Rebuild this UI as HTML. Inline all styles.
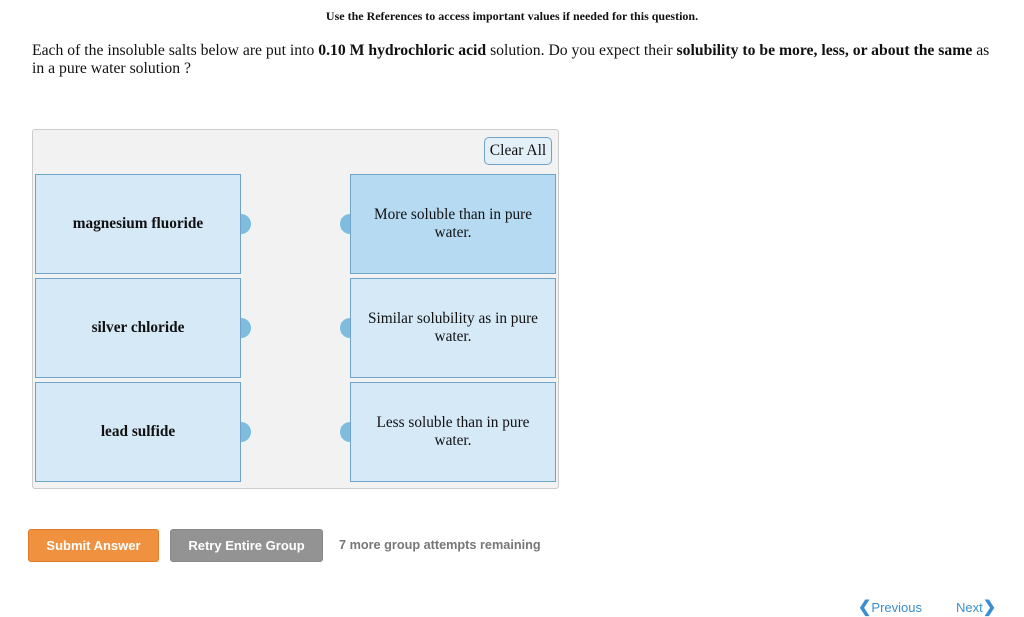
<!DOCTYPE html>
<html><head><style>
body{margin:0;width:1024px;height:611px;background:#fff;font-family:"Liberation Serif",serif;position:relative;overflow:hidden;color:#111}
.a{position:absolute}
.box{position:absolute;background:#d6e9f7;border:1px solid #6fa3c8;box-sizing:border-box;display:flex;align-items:center;justify-content:center;text-align:center;font-size:15.3px;line-height:18px}
.l{font-weight:bold}
.tabR{position:absolute;width:10px;height:20px;background:#7fbde0;border-radius:0 10px 10px 0}
.tabL{position:absolute;width:10px;height:20px;background:#7fbde0;border-radius:10px 0 0 10px}
.btn{position:absolute;border-radius:3px;color:#fff;font-family:"Liberation Sans",sans-serif;font-weight:bold;font-size:13px;display:flex;align-items:center;justify-content:center}
</style></head><body>
<div class="a" style="left:0;width:1024px;top:9px;text-align:center;font-weight:bold;font-size:12px">Use the References to access important values if needed for this question.</div>
<div class="a" style="left:32px;top:42px;width:966px;font-size:15.7px;line-height:18px">Each of the insoluble salts below are put into <b>0.10 M hydrochloric acid</b> solution. Do you expect their <b>solubility to be more, less, or about the same</b> as in a pure water solution ?</div>
<div class="a" style="left:32px;top:129px;width:525px;height:358px;background:#f2f2f2;border:1px solid #ccc;border-radius:3px"></div>
<div class="a" style="left:484px;top:137px;width:68px;height:28px;border:1px solid #6fa3c8;border-radius:5px;background:#e4f0f8;box-sizing:border-box;font-size:15.5px;display:flex;align-items:center;justify-content:center">Clear All</div>
<div class="box l" style="left:35px;top:174px;width:206px;height:100px">magnesium fluoride</div>
<div class="box l" style="left:35px;top:278px;width:206px;height:100px">silver chloride</div>
<div class="box l" style="left:35px;top:382px;width:206px;height:100px">lead sulfide</div>
<div class="box" style="left:350px;top:174px;width:206px;height:100px;background:#b6daf2;padding:0 12px">More soluble than in pure water.</div>
<div class="box" style="left:350px;top:278px;width:206px;height:100px;padding:0 12px">Similar solubility as in pure water.</div>
<div class="box" style="left:350px;top:382px;width:206px;height:100px;padding:0 12px">Less soluble than in pure water.</div>
<div class="tabR" style="left:241px;top:214px"></div><div class="tabR" style="left:241px;top:318px"></div><div class="tabR" style="left:241px;top:422px"></div>
<div class="tabL" style="left:340px;top:214px"></div><div class="tabL" style="left:340px;top:318px"></div><div class="tabL" style="left:340px;top:422px"></div>
<div class="btn" style="left:28px;top:529px;width:131px;height:33px;background:#f0913f;border:1px solid #e07b2a;box-sizing:border-box">Submit Answer</div>
<div class="btn" style="left:170px;top:529px;width:153px;height:33px;background:#939393;border:1px solid #888;box-sizing:border-box">Retry Entire Group</div>
<div class="a" style="left:339px;top:538px;font-family:'Liberation Sans',sans-serif;font-weight:bold;font-size:12.7px;color:#777">7 more group attempts remaining</div>
<div class="a" style="left:858px;top:597px;font-family:'Liberation Sans',sans-serif;font-size:13px;color:#3a8fd0"><b style="font-size:16px">❮</b>Previous</div>
<div class="a" style="left:956px;top:597px;font-family:'Liberation Sans',sans-serif;font-size:13px;color:#3a8fd0">Next<b style="font-size:16px">❯</b></div>
</body></html>
